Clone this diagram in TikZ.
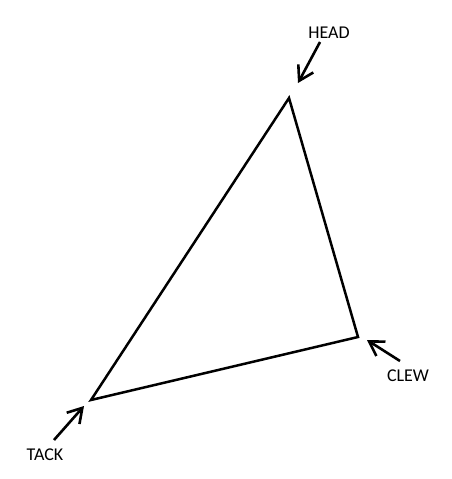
\documentclass[tikz,border=0pt]{standalone}
\usepackage{fontspec}
\setmainfont{Carlito}
\usetikzlibrary{arrows.meta}
\begin{document}
\begin{tikzpicture}[x=1pt,y=-1pt,
  sail/.style={line width=2.5pt, line join=miter},
  pointer/.style={line width=2.6pt, -{Straight Barb[length=14pt,width=17pt,line width=2.6pt]}},
  lbl/.style={font=\fontsize{18}{20}\selectfont, inner sep=0pt}]
\useasboundingbox (0,0) rectangle (452,479);
\coordinate (head) at (289,98);
\coordinate (clew) at (358,337);
\coordinate (tack) at (91,400);
\draw[sail] (head) -- (clew) -- (tack) -- cycle;
\node[lbl] (headlbl) at (329,33) {HEAD};
\node[lbl] (clewlbl) at (408,376) {CLEW};
\node[lbl] (tacklbl) at (45,455) {TACK};
\coordinate (h1) at (320,42);
\coordinate (h2) at (298,83);
\coordinate (c1) at (400,361);
\coordinate (c2) at (367,340);
\coordinate (t1) at (54,440);
\coordinate (t2) at (84,406);
\draw[pointer] (h1) -- (h2);
\draw[pointer] (c1) -- (c2);
\draw[pointer] (t1) -- (t2);
\end{tikzpicture}
\end{document}
